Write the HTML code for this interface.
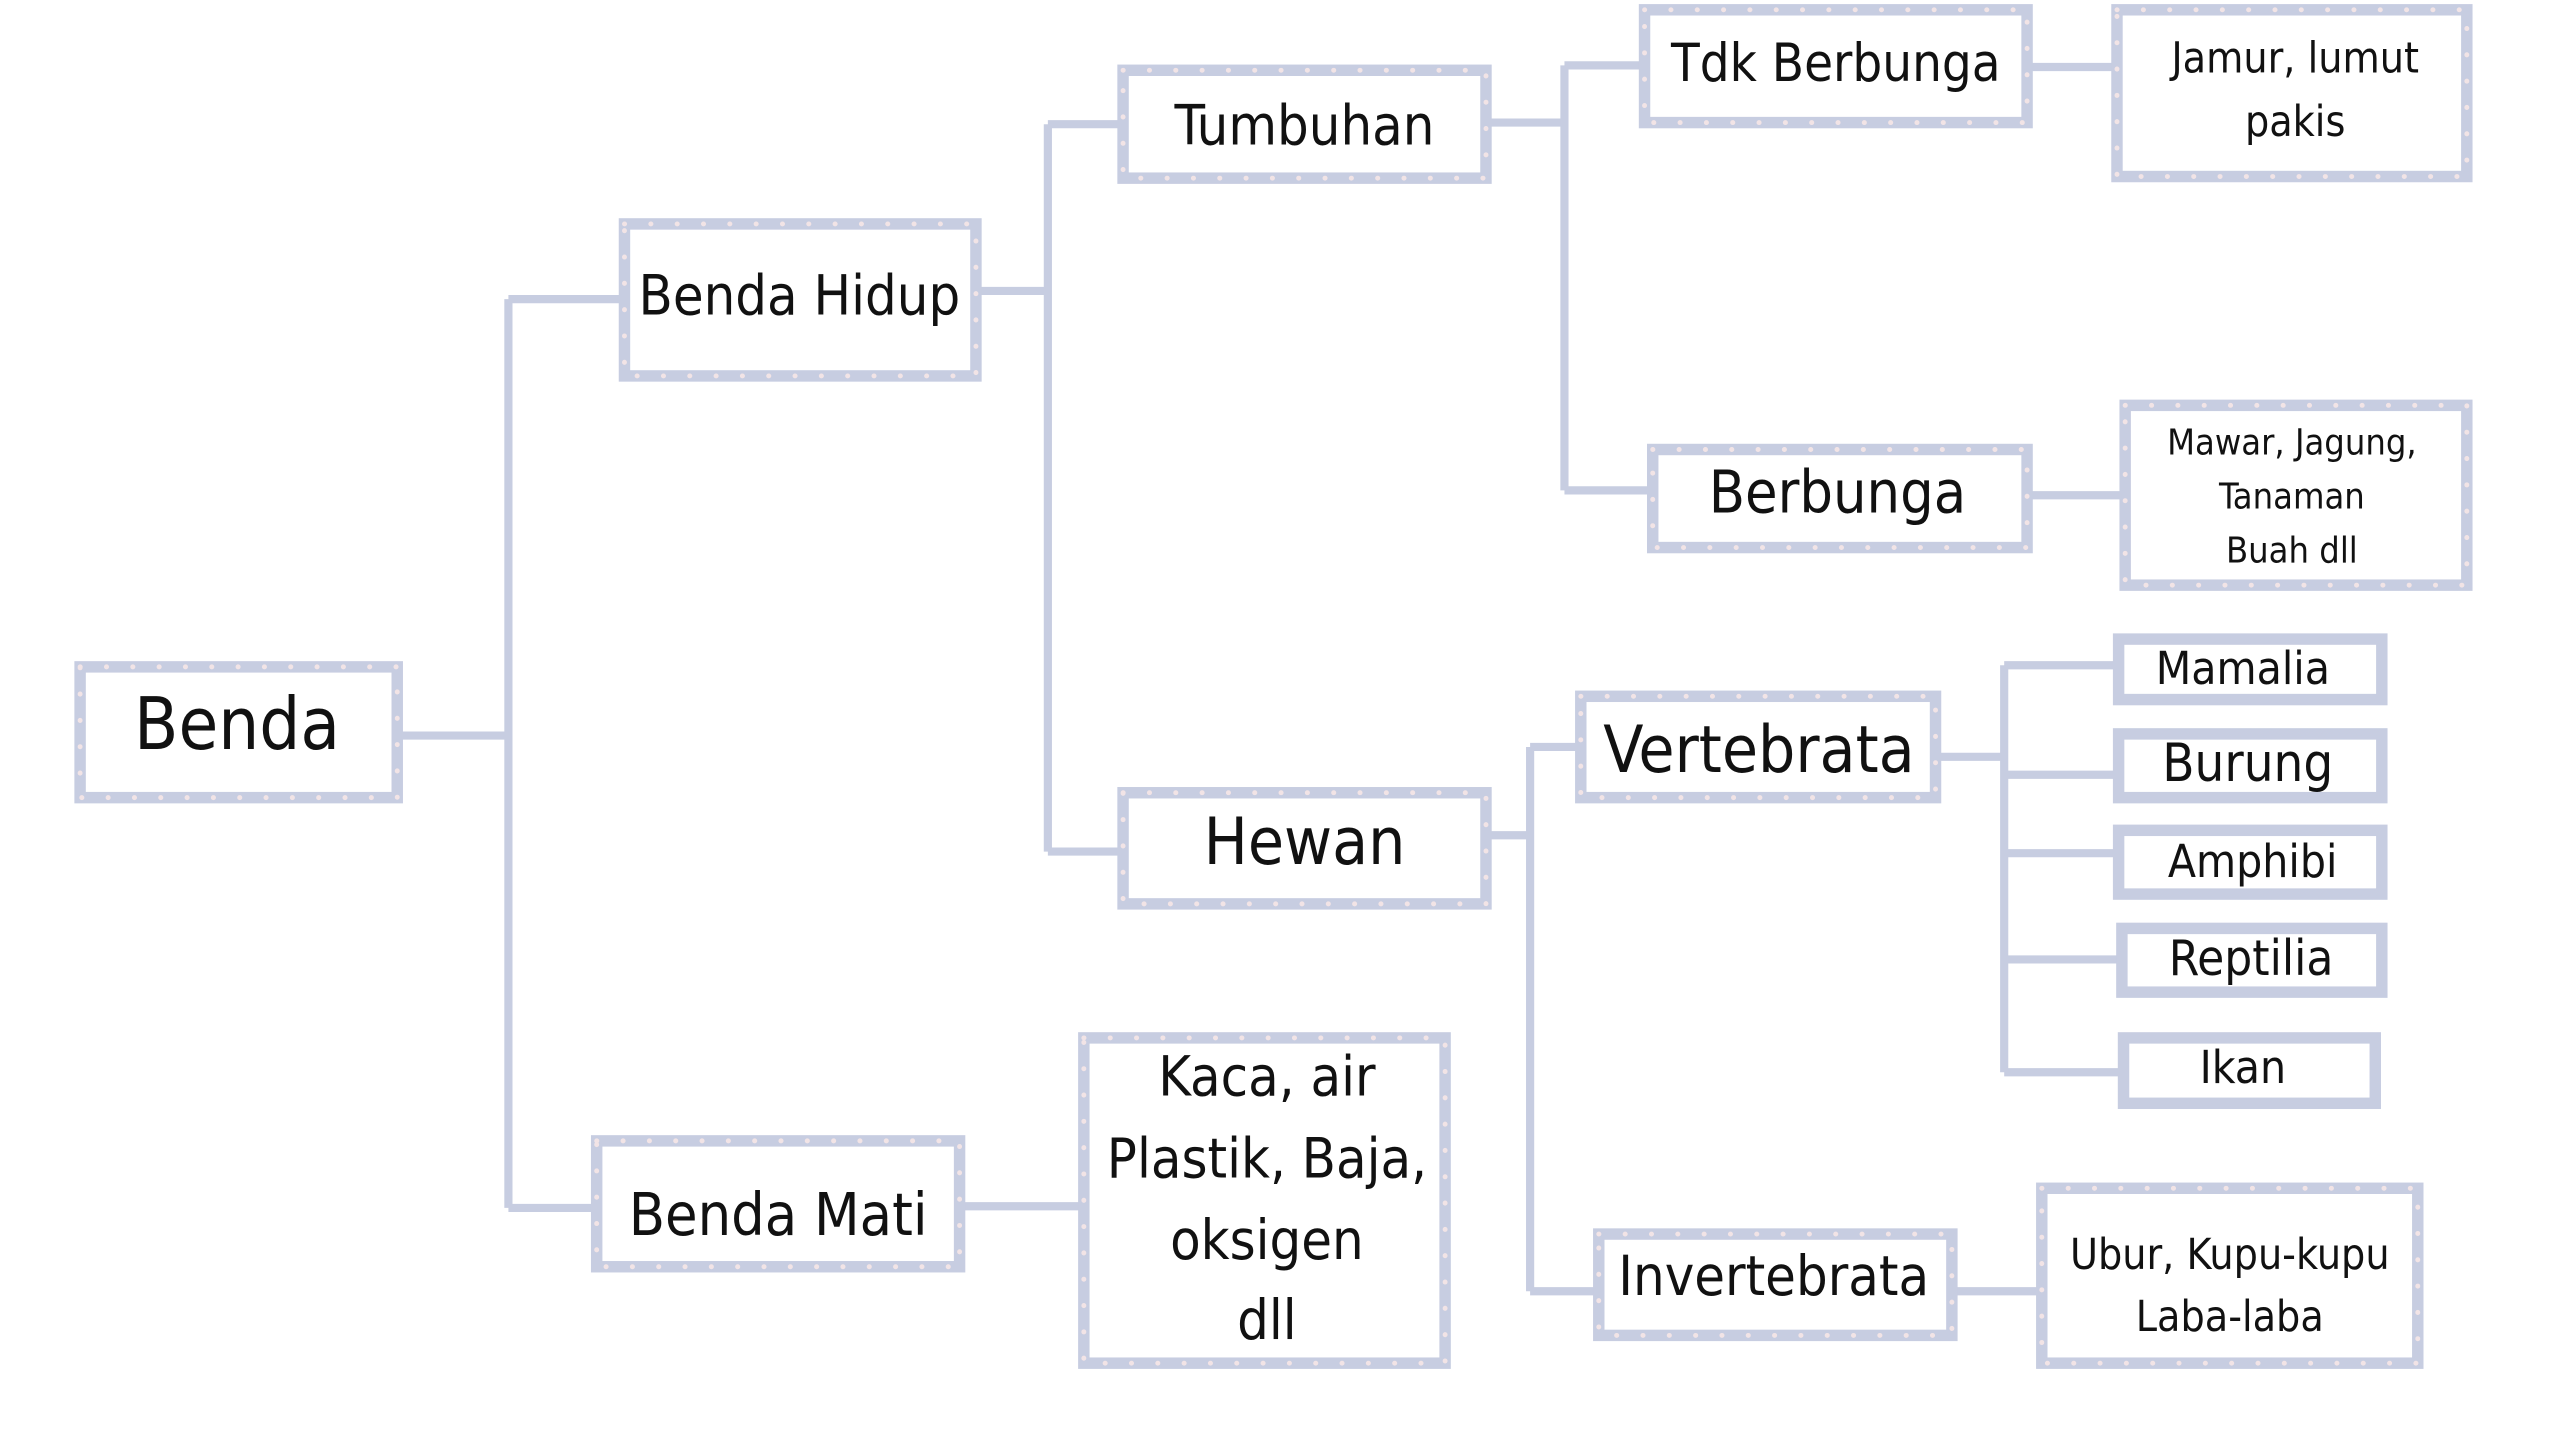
<!DOCTYPE html>
<html><head><meta charset="utf-8"><style>
html,body{margin:0;padding:0;background:#fff;}
svg{display:block;}
text{font-family:"DejaVu Sans Condensed","Liberation Sans",sans-serif;fill:#111;text-anchor:middle;dominant-baseline:central;}
.b{fill:#fff;stroke:#c7cde1;stroke-width:7;}
.d{fill:none;stroke:#f2e4e6;stroke-width:3;stroke-linecap:round;stroke-dasharray:0.1 16;}
.l{fill:none;stroke:#c7cde1;stroke-width:5;}
</style></head><body>
<svg width="2560" height="1440" viewBox="0 0 1566 881" preserveAspectRatio="none" xmlns="http://www.w3.org/2000/svg">
<rect width="1566" height="881" fill="#fff"/>
<g class="l">
<path d="M246 450H311M311 183V739M311 183H379M311 739H362"/>
<path d="M600 178H641M641 76V521M641 76H684M641 521H684"/>
<path d="M912 75H957M957 40V300M957 40H1003M957 300H1008"/>
<path d="M1243 41H1292M1243 303H1297"/>
<path d="M912 511H936M936 457V790M936 457H964M936 790H975"/>
<path d="M1187 463H1226M1226 407V656M1226 407H1293M1226 474H1293M1226 522H1293M1226 587H1295M1226 656H1296"/>
<path d="M1197 790H1246M590 738H660"/>
</g>
<g>
<rect class="b" x="49" y="408" width="194" height="80"/><rect class="d" x="49" y="408" width="194" height="80"/>
<rect class="b" x="382" y="137" width="215" height="93"/><rect class="d" x="382" y="137" width="215" height="93"/>
<rect class="b" x="365" y="698" width="222" height="77"/><rect class="d" x="365" y="698" width="222" height="77"/>
<rect class="b" x="687" y="43" width="222" height="66"/><rect class="d" x="687" y="43" width="222" height="66"/>
<rect class="b" x="687" y="485" width="222" height="68"/><rect class="d" x="687" y="485" width="222" height="68"/>
<rect class="b" x="663" y="635" width="221" height="199"/><rect class="d" x="663" y="635" width="221" height="199"/>
<rect class="b" x="1006" y="6" width="234" height="69"/><rect class="d" x="1006" y="6" width="234" height="69"/>
<rect class="b" x="1011" y="275" width="229" height="60"/><rect class="d" x="1011" y="275" width="229" height="60"/>
<rect class="b" x="1295" y="6" width="214" height="102"/><rect class="d" x="1295" y="6" width="214" height="102"/>
<rect class="b" x="1300" y="248" width="209" height="110"/><rect class="d" x="1300" y="248" width="209" height="110"/>
<rect class="b" x="967" y="426" width="217" height="62"/><rect class="d" x="967" y="426" width="217" height="62"/>
<rect class="b" x="978" y="755" width="216" height="62"/><rect class="d" x="978" y="755" width="216" height="62"/>
<rect class="b" x="1249" y="727" width="230" height="107"/><rect class="d" x="1249" y="727" width="230" height="107"/>
<rect class="b" x="1296" y="391" width="161" height="37"/>
<rect class="b" x="1296" y="449" width="161" height="39"/>
<rect class="b" x="1296" y="508" width="161" height="39"/>
<rect class="b" x="1298" y="568" width="159" height="39"/>
<rect class="b" x="1299" y="635" width="154" height="40"/>
</g>
<text x="145" y="443" font-size="44">Benda</text>
<text x="489" y="181" font-size="34">Benda Hidup</text>
<text x="476" y="743" font-size="36">Benda Mati</text>
<text x="798" y="77" font-size="34">Tumbuhan</text>
<text x="798" y="515" font-size="40">Hewan</text>
<text x="775" y="659" font-size="34">Kaca, air</text>
<text x="775" y="709" font-size="34">Plastik, Baja,</text>
<text x="775" y="759" font-size="34">oksigen</text>
<text x="775" y="808" font-size="34">dll</text>
<text x="1123" y="39" font-size="32">Tdk Berbunga</text>
<text x="1124" y="301" font-size="36">Berbunga</text>
<text x="1404" y="36" font-size="26">Jamur, lumut</text>
<text x="1404" y="75" font-size="26">pakis</text>
<text x="1402" y="271" font-size="22">Mawar, Jagung,</text>
<text x="1402" y="304" font-size="22">Tanaman</text>
<text x="1402" y="337" font-size="22">Buah dll</text>
<text x="1076" y="459" font-size="40">Vertebrata</text>
<text x="1085" y="781" font-size="34">Invertebrata</text>
<text x="1364" y="768" font-size="26">Ubur, Kupu-kupu</text>
<text x="1364" y="806" font-size="26">Laba-laba</text>
<text x="1372" y="409" font-size="28">Mamalia</text>
<text x="1375" y="467" font-size="32">Burung</text>
<text x="1378" y="527" font-size="28">Amphibi</text>
<text x="1377" y="586" font-size="30">Reptilia</text>
<text x="1372" y="653" font-size="28">Ikan</text>
</svg>
</body></html>
